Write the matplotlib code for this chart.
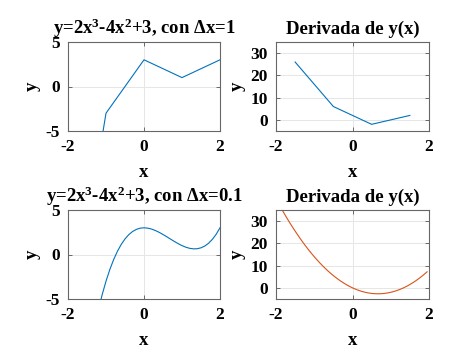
import numpy as np
from matplotlib import pyplot as plt

plt.rcParams['font.family'] = 'Liberation Serif'
plt.rcParams['font.weight'] = 'bold'
plt.rcParams['mathtext.fontset'] = 'custom'
plt.rcParams['mathtext.rm'] = 'Liberation Serif:bold'
plt.rcParams['mathtext.bf'] = 'Liberation Serif:bold'
plt.rcParams['mathtext.default'] = 'rm'
plt.rcParams['axes.unicode_minus'] = False

# y = 2x^3 - 4x^2 + 3, coarse step (dx = 1)
x1 = [-2, -1, 0, 1, 2]
y1 = [-29, -3, 3, 1, 3]
# derivative at midpoints
xd1 = [-1.5, -0.5, 0.5, 1.5]
yd1 = [26, 6, -2, 2]

# fine step (dx = 0.1)
x2 = [-2.0, -1.9, -1.8, -1.7, -1.6, -1.5, -1.4, -1.3, -1.2, -1.1, -1.0,
      -0.9, -0.8, -0.7, -0.6, -0.5, -0.4, -0.3, -0.2, -0.1, 0.0,
      0.1, 0.2, 0.3, 0.4, 0.5, 0.6, 0.7, 0.8, 0.9, 1.0,
      1.1, 1.2, 1.3, 1.4, 1.5, 1.6, 1.7, 1.8, 1.9, 2.0]
y2 = [-29.0, -25.158, -21.624, -18.386, -15.432, -12.75, -10.328, -8.154, -6.216, -4.502, -3.0,
      -1.698, -0.584, 0.354, 1.128, 1.75, 2.232, 2.586, 2.824, 2.958, 3.0,
      2.962, 2.856, 2.694, 2.488, 2.25, 1.992, 1.726, 1.464, 1.218, 1.0,
      0.822, 0.696, 0.634, 0.648, 0.75, 0.952, 1.266, 1.704, 2.278, 3.0]
xd2 = [-1.95, -1.85, -1.75, -1.65, -1.55, -1.45, -1.35, -1.25, -1.15, -1.05,
       -0.95, -0.85, -0.75, -0.65, -0.55, -0.45, -0.35, -0.25, -0.15, -0.05,
       0.05, 0.15, 0.25, 0.35, 0.45, 0.55, 0.65, 0.75, 0.85, 0.95,
       1.05, 1.15, 1.25, 1.35, 1.45, 1.55, 1.65, 1.75, 1.85, 1.95]
yd2 = [38.42, 35.34, 32.38, 29.54, 26.82, 24.22, 21.74, 19.38, 17.14, 15.02,
       13.02, 11.14, 9.38, 7.74, 6.22, 4.82, 3.54, 2.38, 1.34, 0.42,
       -0.38, -1.06, -1.62, -2.06, -2.38, -2.58, -2.66, -2.62, -2.46, -2.18,
       -1.78, -1.26, -0.62, 0.14, 1.02, 2.02, 3.14, 4.38, 5.74, 7.22]

blue = '#0072BD'
red = '#D95319'

W, H = 474, 355
fig = plt.figure(figsize=(W / 100, H / 100), dpi=100)


def make_ax(left, top, right, bottom):
    return fig.add_axes([left / W, 1 - bottom / H, (right - left) / W, (bottom - top) / H])


def style(ax, title, ylim, yticks):
    ax.set_xlim(-2, 2)
    ax.set_ylim(*ylim)
    ax.set_xticks([-2, 0, 2])
    ax.set_yticks(yticks)
    ax.set_title(title, fontsize=13.5, fontweight='bold', pad=6)
    ax.set_xlabel('x', fontsize=13.5, fontweight='bold', labelpad=6)
    ax.set_ylabel('y', fontsize=13.5, fontweight='bold', labelpad=3)
    ax.grid(True, color='#e6e6e6', linewidth=0.7)
    ax.set_axisbelow(True)
    ax.tick_params(direction='in', length=3, width=0.6, color='#555555',
                   labelsize=12.5, pad=6, top=True, right=True)
    for lab in ax.get_xticklabels() + ax.get_yticklabels():
        lab.set_fontweight('bold')
    for s in ax.spines.values():
        s.set_color('#666666')
        s.set_linewidth(0.8)


ax = make_ax(68, 42, 220, 131)
ax.plot(x1, y1, color=blue, linewidth=0.8)
style(ax, 'y=2x$^3$-4x$^2$+3, con $\u0394$x=1', (-5, 5), [-5, 0, 5])

ax = make_ax(276, 42, 429, 131)
ax.plot(xd1, yd1, color=blue, linewidth=0.8)
style(ax, 'Derivada de y(x)', (-5, 35), [0, 10, 20, 30])

ax = make_ax(68, 210, 220, 299)
ax.plot(x2, y2, color=blue, linewidth=0.8)
style(ax, 'y=2x$^3$-4x$^2$+3, con $\u0394$x=0.1', (-5, 5), [-5, 0, 5])

ax = make_ax(276, 210, 429, 299)
ax.plot(xd2, yd2, color=red, linewidth=0.8)
style(ax, 'Derivada de y(x)', (-5, 35), [0, 10, 20, 30])

plt.savefig('out.png', dpi=100)
